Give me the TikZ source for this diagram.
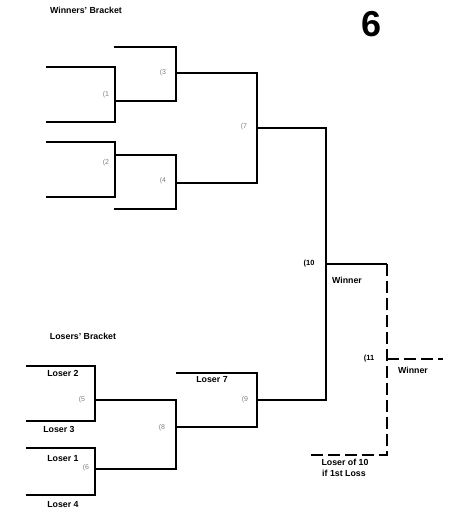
\documentclass[tikz,border=0pt]{standalone}
\usepackage{fontspec}
\setmainfont{Liberation Sans}
\begin{document}
\begin{tikzpicture}[x=1pt,y=-1pt,
  br/.style={line width=2pt,line join=miter},
  dbr/.style={line width=2pt,dash pattern=on 12pt off 5pt},
  lbl/.style={font=\bfseries\fontsize{8.8}{9.5}\selectfont,inner sep=0pt},
  gnum/.style={font=\fontsize{7}{8}\selectfont,text=black!50,inner sep=0pt},
  bnum/.style={font=\bfseries\fontsize{7.5}{8}\selectfont,inner sep=0pt}]
\useasboundingbox (0,0) rectangle (474,517);
% ---------- coordinates ----------
% game 1
\coordinate (g1a) at (46,67);  \coordinate (g1b) at (115,67);
\coordinate (g1c) at (115,122); \coordinate (g1d) at (46,122);
% game 2
\coordinate (g2a) at (46,142);  \coordinate (g2b) at (115,142);
\coordinate (g2c) at (115,197); \coordinate (g2d) at (46,197);
% game 3
\coordinate (g3a) at (114,47);  \coordinate (g3b) at (176,47);
\coordinate (g3c) at (176,101); \coordinate (g3d) at (115,101);
% game 4
\coordinate (g4a) at (115,155); \coordinate (g4b) at (176,155);
\coordinate (g4c) at (176,209); \coordinate (g4d) at (114,209);
% game 7
\coordinate (g7a) at (176,73);  \coordinate (g7b) at (257,73);
\coordinate (g7c) at (257,183); \coordinate (g7d) at (176,183);
% game 10
\coordinate (g10a) at (257,128); \coordinate (g10b) at (326,128);
\coordinate (g10c) at (326,400); \coordinate (g10d) at (257,400);
\coordinate (g10o) at (326,264); \coordinate (g10e) at (387,264);
% game 11 (dashed)
\coordinate (g11o) at (387,359); \coordinate (g11e) at (443,359);
\coordinate (g11c) at (387,455); \coordinate (g11d) at (308,455);
% game 5
\coordinate (g5a) at (26,366);  \coordinate (g5b) at (95,366);
\coordinate (g5c) at (95,421);  \coordinate (g5d) at (26,421);
% game 6
\coordinate (g6a) at (26,448);  \coordinate (g6b) at (95,448);
\coordinate (g6c) at (95,495);  \coordinate (g6d) at (26,495);
% game 8
\coordinate (g8a) at (95,400);  \coordinate (g8b) at (176,400);
\coordinate (g8c) at (176,469); \coordinate (g8d) at (95,469);
% game 9
\coordinate (g9a) at (176,373); \coordinate (g9b) at (257,373);
\coordinate (g9c) at (257,427); \coordinate (g9d) at (176,427);
% ---------- lines ----------
\draw[br] (g1a) -- (g1b) -- (g1c) -- (g1d);
\draw[br] (g2a) -- (g2b) -- (g2c) -- (g2d);
\draw[br] (g3a) -- (g3b) -- (g3c) -- (g3d);
\draw[br] (g4a) -- (g4b) -- (g4c) -- (g4d);
\draw[br] (g7a) -- (g7b) -- (g7c) -- (g7d);
\draw[br] (g10a) -- (g10b) -- (g10c) -- (g10d);
\draw[br] (g10o) -- (g10e);
\draw[br] (g5a) -- (g5b) -- (g5c) -- (g5d);
\draw[br] (g6a) -- (g6b) -- (g6c) -- (g6d);
\draw[br] (g8a) -- (g8b) -- (g8c) -- (g8d);
\draw[br] (g9a) -- (g9b) -- (g9c) -- (g9d);
\draw[dbr] (g10e) -- (g11c) -- (g11d);
\draw[dbr] (g11o) -- (g11e);
% ---------- texts ----------
\node[lbl] (tw) at (86,10) {Winners' Bracket};
\node[font=\bfseries\fontsize{36}{36}\selectfont,inner sep=0pt] (tsix) at (372,24) {6};
\node[lbl] (tl) at (83,336) {Losers' Bracket};
\node[gnum] (n1) at (106,95) {(1};
\node[gnum] (n2) at (106,163) {(2};
\node[gnum] (n3) at (163,73) {(3};
\node[gnum] (n4) at (163,181) {(4};
\node[gnum] (n7) at (244,127) {(7};
\node[gnum] (n5) at (82,400) {(5};
\node[gnum] (n6) at (86,468) {(6};
\node[gnum] (n8) at (162,428) {(8};
\node[gnum] (n9) at (245,400) {(9};
\node[bnum] (n10) at (309,264) {(10};
\node[bnum] (n11) at (369,359) {(11};
\node[lbl] (w1) at (347,280) {Winner};
\node[lbl] (w2) at (413,370) {Winner};
\node[lbl] (l10a) at (345,462) {Loser of 10};
\node[lbl] (l10b) at (344,473) {if 1st Loss};
\node[lbl] (l2) at (63,373) {Loser 2};
\node[lbl] (l3) at (59,429) {Loser 3};
\node[lbl] (l1) at (63,459) {Loser 1};
\node[lbl] (l4) at (63,505) {Loser 4};
\node[lbl] (l7) at (212,380) {Loser 7};
\end{tikzpicture}
\end{document}
